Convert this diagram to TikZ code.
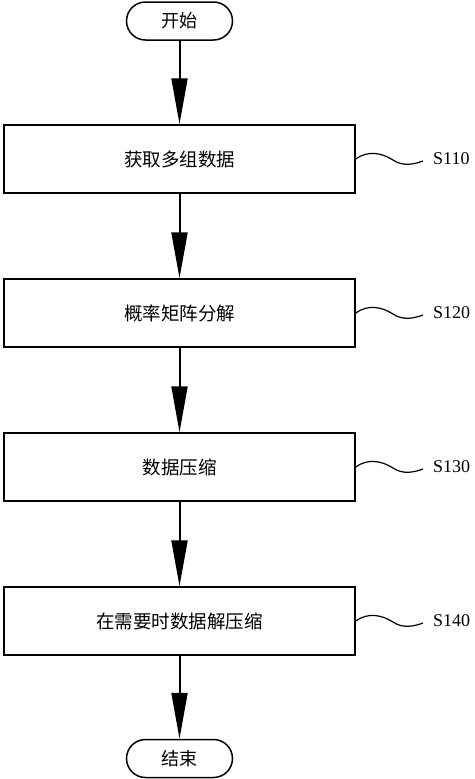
\documentclass[tikz,border=0pt]{standalone}
\usepackage{fontspec}
\setmainfont{Liberation Serif}
\newfontfamily\cjk{Noto Sans CJK SC}
\usetikzlibrary{arrows.meta}
\begin{document}
\begin{tikzpicture}[x=1pt,y=-1pt,
  term/.style={draw, line width=1.5pt, rounded corners=19pt, minimum width=106pt, minimum height=38pt, inner sep=0pt, font=\cjk\fontsize{18}{20}\selectfont},
  stepbox/.style={draw, line width=1.5pt, minimum width=351pt, minimum height=68pt, inner sep=0pt, font=\cjk\fontsize{18.5}{22}\selectfont},
  flow/.style={line width=2pt, -{Triangle[length=46pt,width=16pt]}},
  wave/.style={line width=1.2pt},
  tag/.style={anchor=west, font=\fontsize{18}{20}\selectfont, inner sep=0pt}]
\useasboundingbox (0,0) rectangle (474,779);
\node[term] (start) at (179.5,21) {开始};
\node[stepbox] (s1) at (179.5,159) {获取多组数据};
\node[stepbox] (s2) at (179.5,313) {概率矩阵分解};
\node[stepbox] (s3) at (179.5,467) {数据压缩};
\node[stepbox] (s4) at (179.5,621) {在需要时数据解压缩};
\node[term] (end) at (179.5,758.5) {结束};
\draw[flow] (start.south) -- (s1.north);
\draw[flow] (s1.south) -- (s2.north);
\draw[flow] (s2.south) -- (s3.north);
\draw[flow] (s3.south) -- (s4.north);
\draw[flow] (s4.south) -- (end.north);
\foreach \n/\c/\t in {s1/159/S110, s2/313/S120, s3/467/S130, s4/621/S140} {
  \node[tag] (t\n) at (433,\c) {\t};
  \coordinate (e\n) at (423,\c+2);
  \draw[wave] (\n.east) .. controls (368,\c-9) and (382,\c-6) .. (393,\c+1) .. controls (403,\c+8) and (415,\c+5) .. (e\n);
}
\end{tikzpicture}
\end{document}
